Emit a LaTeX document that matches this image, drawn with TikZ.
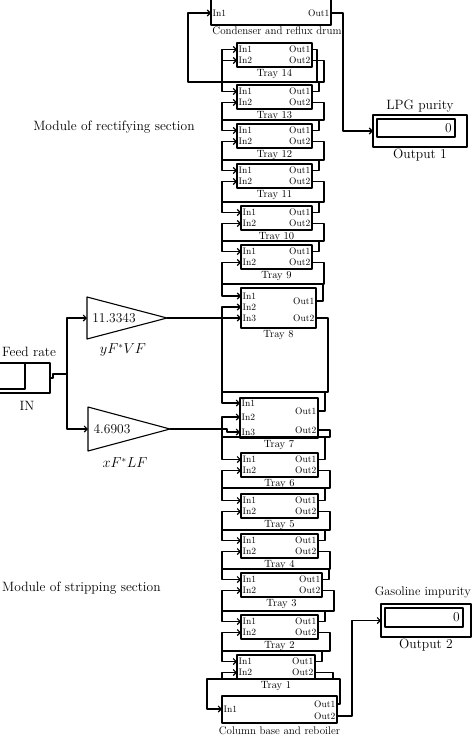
\documentclass[tikz,border=0pt]{standalone}
\usepackage{tikz}
\usetikzlibrary{arrows.meta, positioning, calc}
\tikzset{every node/.style={font=\small}, every path/.style={line cap=round, line join=round}, >={Straight Barb[length=3pt, width=6pt]}}
\tikzset{
    block/.style={draw, line width=1.1pt, inner sep=0pt, outer sep=0pt},
    wire/.style={line width=1.1pt},
    port/.style={font=\fontsize{9.5}{10}\selectfont, inner sep=1.5pt},
    caption/.style={font=\fontsize{10.5}{12}\selectfont, inner sep=1pt},
    midlabel/.style={font=\fontsize{11}{13}\selectfont, inner sep=1pt},
    biglabel/.style={font=\fontsize{13.5}{16}\selectfont, inner sep=1pt}
}

\begin{document}
\begin{tikzpicture}[x=1pt, y=-1pt]
    \useasboundingbox (0,0) rectangle (474,741);

    % two-port trays
    \foreach \n/\xl/\xr/\yt in {14/237/312/43, 13/237/312/85, 12/237/312/124, 11/237/312/164, 10/241/312/206, 9/241/312/245, 6/241/318/453, 5/241/318/494, 4/241/318/534, 3/241/322/573, 2/241/318/615, 1/237/315/655}{
        \node[block, minimum width={\xr-\xl}, minimum height=24, anchor=north west] (t\n) at (\xl,\yt) {};
        \coordinate (t\n-in1) at ($(t\n.north west)+(0,6.5)$);
        \coordinate (t\n-in2) at ($(t\n.north west)+(0,17.5)$);
        \coordinate (t\n-out1) at ($(t\n.north east)+(0,6.5)$);
        \coordinate (t\n-out2) at ($(t\n.north east)+(0,17.5)$);
        \node[port, anchor=west] (t\n-i1) at (t\n-in1) {In1};
        \node[port, anchor=west] (t\n-i2) at (t\n-in2) {In2};
        \node[port, anchor=east] (t\n-o1) at (t\n-out1) {Out1};
        \node[port, anchor=east] (t\n-o2) at (t\n-out2) {Out2};
        \node[caption, below=1.5pt of t\n] (t\n-cap) {Tray \n};
    }

    % feed trays
    \node[block, minimum width=75, minimum height=40, anchor=north west] (t8) at (241,288) {};
    \coordinate (t8-in1) at ($(t8.north west)+(0,8)$);
    \coordinate (t8-in2) at ($(t8.north west)+(0,19)$);
    \coordinate (t8-in3) at ($(t8.north west)+(0,30)$);
    \coordinate (t8-out1) at ($(t8.north east)+(0,13)$);
    \coordinate (t8-out2) at ($(t8.north east)+(0,30)$);
    \node[port, anchor=west] (t8-i1) at (t8-in1) {In1};
    \node[port, anchor=west] (t8-i2) at (t8-in2) {In2};
    \node[port, anchor=west] (t8-i3) at (t8-in3) {In3};
    \node[port, anchor=east] (t8-o1) at (t8-out1) {Out1};
    \node[port, anchor=east] (t8-o2) at (t8-out2) {Out2};
    \node[caption, below=1.5pt of t8] (t8-cap) {Tray 8};

    \node[block, minimum width=78, minimum height=40, anchor=north west] (t7) at (240,398) {};
    \coordinate (t7-in1) at ($(t7.north west)+(0,5)$);
    \coordinate (t7-in2) at ($(t7.north west)+(0,19)$);
    \coordinate (t7-in3) at ($(t7.north west)+(0,34)$);
    \coordinate (t7-out1) at ($(t7.north east)+(0,13)$);
    \coordinate (t7-out2) at ($(t7.north east)+(0,32)$);
    \node[port, anchor=west] (t7-i1) at (t7-in1) {In1};
    \node[port, anchor=west] (t7-i2) at (t7-in2) {In2};
    \node[port, anchor=west] (t7-i3) at (t7-in3) {In3};
    \node[port, anchor=east] (t7-o1) at (t7-out1) {Out1};
    \node[port, anchor=east] (t7-o2) at (t7-out2) {Out2};
    \node[caption, below=1.5pt of t7] (t7-cap) {Tray 7};

    % links between neighbouring trays
    \foreach \u/\l/\hy in {14/13/82, 13/12/120, 12/11/160, 11/10/202, 10/9/241, 9/8/284, 8/7/392, 7/6/437, 6/5/488, 5/4/530, 4/3/569, 3/2/611, 2/1/651}{
        \draw[wire, ->] (t\u-out2) -- ++(12,0) |- (222,\hy) |- (t\l-in1);
        \draw[wire, ->] (t\l-out1) -- ++(7,0) |- (222,\hy) |- (t\u-in2);
    }

    % condenser
    \node[block, minimum width=120, minimum height=32, anchor=south west] (cond) at (211,25) {};
    \coordinate (cond-in1) at ($(cond.south west)+(0,-12)$);
    \coordinate (cond-out1) at ($(cond.south east)+(0,-12)$);
    \node[port, anchor=west] (cond-i1) at (cond-in1) {In1};
    \node[port, anchor=east] (cond-o1) at (cond-out1) {Out1};
    \node[midlabel, below=1pt of cond, xshift=6pt] (cond-cap) {Condenser and reflux drum};
    \coordinate (reflux) at (222,82);
    \draw[wire, ->] (t14-out1) -- ++(5,0) |- (188,82) |- (cond-in1);
    \draw[wire, ->] (reflux) |- (t14-in1);

    % reboiler
    \node[block, minimum width=115, minimum height=27, anchor=north west] (base) at (222,696) {};
    \coordinate (base-in1) at ($(base.north west)+(0,13)$);
    \coordinate (base-out1) at ($(base.north east)+(0,8)$);
    \coordinate (base-out2) at ($(base.north east)+(0,20)$);
    \node[port, anchor=west] (base-i1) at (base-in1) {In1};
    \node[port, anchor=east] (base-o1) at (base-out1) {Out1};
    \node[port, anchor=east] (base-o2) at (base-out2) {Out2};
    \node[midlabel, below=3pt of base] (base-cap) {Column base and reboiler};
    \draw[wire, ->] (t1-out2) -- ++(18,0) |- (207,679) |- (base-in1);
    \draw[wire, ->] (base-out1) -- ++(3,0) |- (222,679) |- (t1-in2);

    % displays
    \node[block, minimum width=94, minimum height=32] (lpg) at (420,131) {};
    \node[block, minimum width=78, minimum height=18, anchor=north west] (lpg-val) at ($(lpg.north west)+(4,4)$) {};
    \node[biglabel, anchor=east] (lpg-zero) at ($(lpg-val.east)+(-2,0)$) {0};
    \node[biglabel, above=2pt of lpg] (lpg-name) {LPG purity};
    \node[biglabel, below=1pt of lpg] (lpg-out) {Output 1};
    \draw[wire, ->] (cond-out1) -- ++(12,0) |- (lpg.west);

    \node[block, minimum width=90, minimum height=33] (gas) at (426,620.5) {};
    \node[block, minimum width=78, minimum height=19, anchor=north west] (gas-val) at ($(gas.north west)+(4,4)$) {};
    \node[biglabel, anchor=east] (gas-zero) at ($(gas-val.east)+(-2,0)$) {0};
    \node[biglabel, anchor=east, font=\fontsize{12.5}{15}\selectfont] (gas-name) at (472,592) {Gasoline impurity};
    \node[biglabel, below=1pt of gas] (gas-out) {Output 2};
    \draw[wire, ->] (base-out2) -- ++(15,0) |- (gas.west);

    % feed and gains
    \node[block, minimum width=52, minimum height=30, anchor=north east] (feed) at (50,363) {};
    \draw[wire] (feed.north) ++(1,0) -- ++(0,26) -| ($(feed.north west)+(1,26)$);
    \node[biglabel, anchor=west] (feed-name) at (1,352) {Feed rate};
    \node[biglabel] (feed-in) at (27,406) {IN};
    \coordinate (split) at (67,374);
    \draw[wire] (feed.east) -- ++(3,0) -- ++(0,-4) -- (split);

    \coordinate (g1-in) at (87,318);
    \coordinate (g1-out) at (167,318);
    \draw[wire] ($(g1-in)+(0,-21)$) -- (g1-out) -- ($(g1-in)+(0,21)$) -- cycle;
    \node[biglabel] (g1) at (114,318) {11.3343};
    \node[biglabel] (g1-name) at (123,350) {$yF^{*}VF$};

    \coordinate (g2-in) at (88,429);
    \coordinate (g2-out) at (170,429);
    \draw[wire] ($(g2-in)+(0,-22)$) -- (g2-out) -- ($(g2-in)+(0,22)$) -- cycle;
    \node[biglabel] (g2) at (112,429) {4.6903};
    \node[biglabel] (g2-name) at (125,463) {$xF^{*}LF$};

    \draw[wire, ->] (split) |- (g1-in);
    \draw[wire, ->] (split) |- (g2-in);
    \draw[wire, ->] (g1-out) -- (t8-in3);
    \draw[wire, ->] (g2-out) -- ++(57,0) |- (t7-in3);

    \node[biglabel] (rect-name) at (114,127) {Module of rectifying section};
    \node[biglabel, anchor=west] (strip-name) at (1,588) {Module of stripping section};
\end{tikzpicture}
\end{document}
